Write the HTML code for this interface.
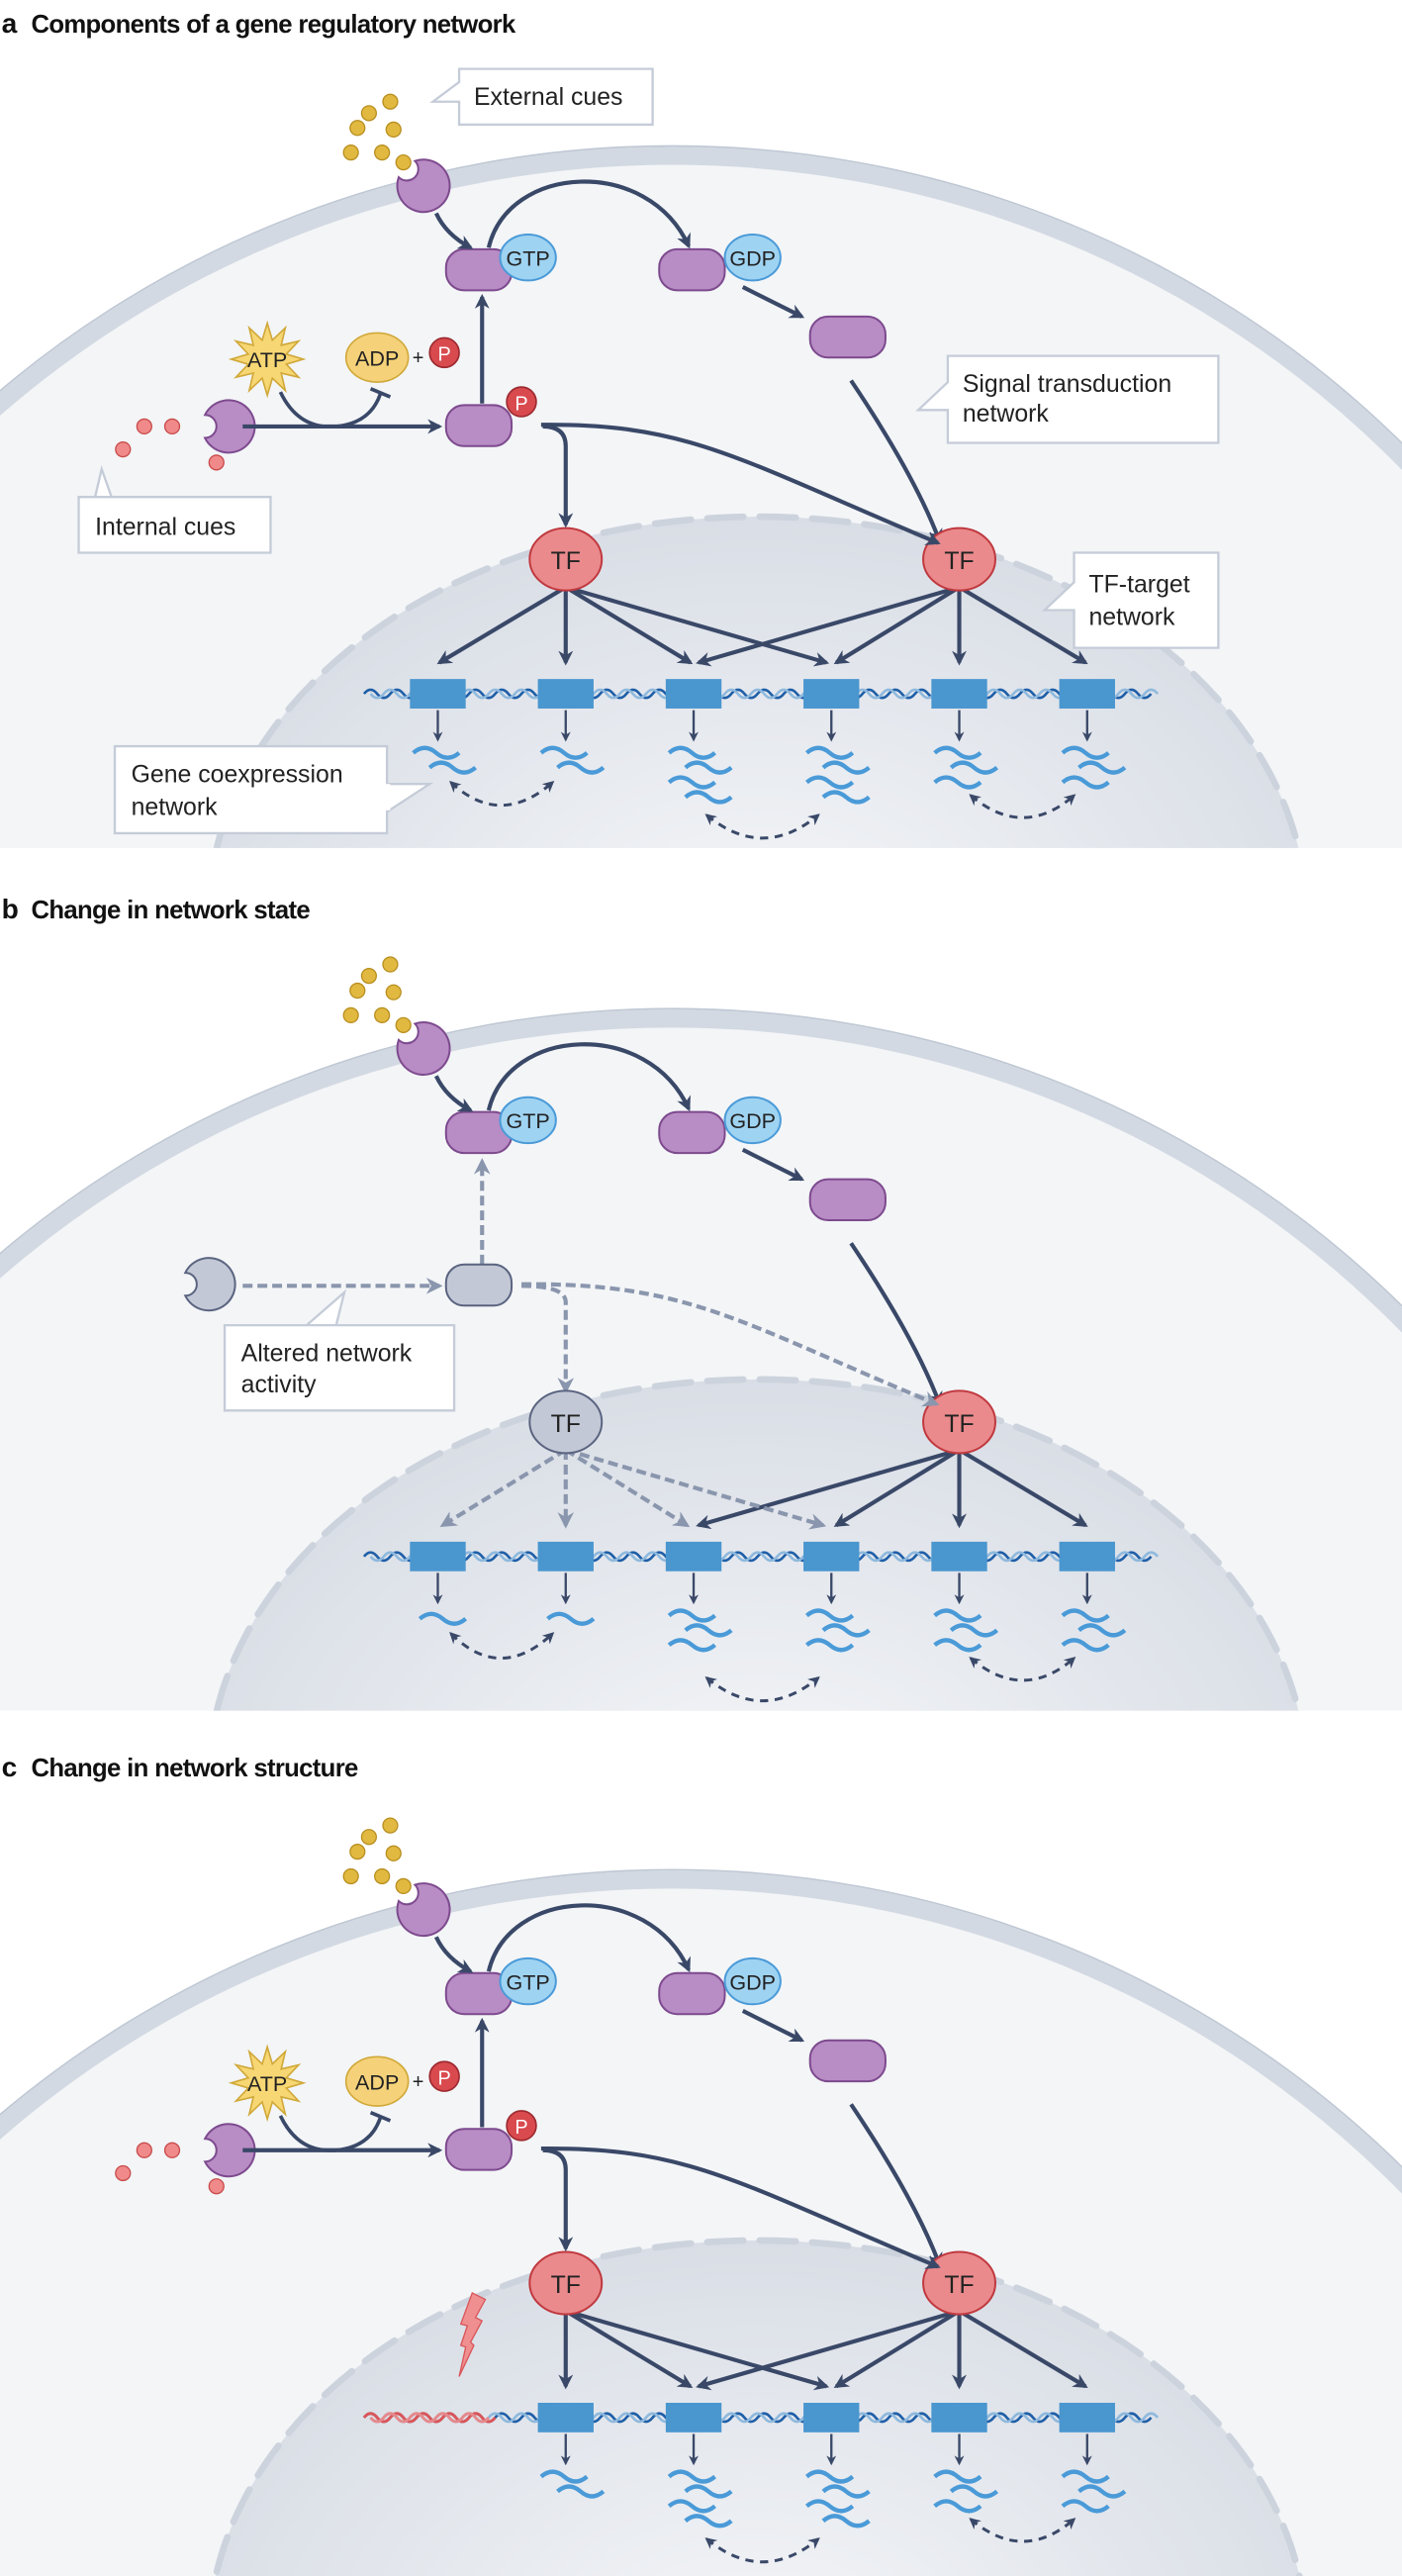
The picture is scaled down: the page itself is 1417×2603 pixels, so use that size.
<!DOCTYPE html>
<html><head><meta charset="utf-8"><style>html,body{margin:0;padding:0;background:#fff;overflow:hidden;width:1417px;height:2603px}svg{display:block}text{font-family:"Liberation Sans",sans-serif}</style></head><body>
<svg width="1417" height="2603" viewBox="0 0 855 1570.6" preserveAspectRatio="none" xmlns="http://www.w3.org/2000/svg">
<defs>
<marker id="ah" viewBox="0 0 10 10" refX="8" refY="5" markerWidth="9" markerHeight="9" markerUnits="userSpaceOnUse" orient="auto"><path d="M0,0 L10,5 L0,10 L3,5 Z" fill="#3a4868"/></marker>
<marker id="ahs" viewBox="0 0 10 10" refX="8" refY="5" markerWidth="6" markerHeight="6" markerUnits="userSpaceOnUse" orient="auto"><path d="M0,0 L10,5 L0,10 L3,5 Z" fill="#3a4868"/></marker>
<marker id="ahg" viewBox="0 0 10 10" refX="8" refY="5" markerWidth="10" markerHeight="10" markerUnits="userSpaceOnUse" orient="auto"><path d="M0,0 L10,5 L0,10 L3,5 Z" fill="#8a96ad"/></marker>
<marker id="ahd" viewBox="0 0 10 10" refX="8" refY="5" markerWidth="7" markerHeight="7" markerUnits="userSpaceOnUse" orient="auto-start-reverse"><path d="M0,0 L10,5 L0,10 L3,5 Z" fill="#3a4868"/></marker>
<radialGradient id="nuc" cx="0.5" cy="0.55" r="0.55"><stop offset="0" stop-color="#f6f7f9"/><stop offset="1" stop-color="#d9dee6"/></radialGradient>
<g id="mr"><path d="M0,3 q7,-6 14,0 t14,0" fill="none" stroke="#4a9ad8" stroke-width="2.6"/></g>
<g id="gene"><rect x="-17" y="-9" width="34" height="18" fill="#4a96cf"/></g>
<g id="dna">
<path d="M222,423 q4,-5 8,0 t8,0 t8,0 t8,0 t8,0 t8,0 t8,0 t8,0 t8,0 t8,0 t8,0 t8,0 t8,0 t8,0 t8,0 t8,0 t8,0 t8,0 t8,0 t8,0 t8,0 t8,0 t8,0 t8,0 t8,0 t8,0 t8,0 t8,0 t8,0 t8,0 t8,0 t8,0 t8,0 t8,0 t8,0 t8,0 t8,0 t8,0 t8,0 t8,0 t8,0 t8,0 t8,0 t8,0 t8,0 t8,0 t8,0 t8,0 t8,0 t8,0 t8,0 t8,0 t8,0 t8,0 t8,0 t8,0 t8,0 t8,0 t8,0 t8,0" fill="none" stroke="#1f5fa8" stroke-width="1.6"/>
<path d="M226,423 q4,5 8,0 t8,0 t8,0 t8,0 t8,0 t8,0 t8,0 t8,0 t8,0 t8,0 t8,0 t8,0 t8,0 t8,0 t8,0 t8,0 t8,0 t8,0 t8,0 t8,0 t8,0 t8,0 t8,0 t8,0 t8,0 t8,0 t8,0 t8,0 t8,0 t8,0 t8,0 t8,0 t8,0 t8,0 t8,0 t8,0 t8,0 t8,0 t8,0 t8,0 t8,0 t8,0 t8,0 t8,0 t8,0 t8,0 t8,0 t8,0 t8,0 t8,0 t8,0 t8,0 t8,0 t8,0 t8,0 t8,0 t8,0 t8,0 t8,0 t8,0" fill="none" stroke="#8fb9dd" stroke-width="1.6"/>
</g>
<path id="rcp" d="M-14,-7 A16,16 0 1 1 -14,7 A7,7 0 0 0 -14,-7 Z"/>
<clipPath id="ca"><rect x="0" y="30" width="855" height="487"/></clipPath>
<clipPath id="cb"><rect x="0" y="569" width="855" height="474"/></clipPath>
<clipPath id="cc"><rect x="0" y="1094" width="855" height="477"/></clipPath>
<g id="bg">
<ellipse cx="410" cy="700" rx="620" ry="605" fill="#f3f5f7" stroke="#d3d9e2" stroke-width="11"/>
<ellipse cx="410" cy="700" rx="626" ry="611" fill="none" stroke="#bfc8d4" stroke-width="1"/>
<ellipse cx="462" cy="560" rx="335" ry="245" fill="url(#nuc)" stroke="#cdd3dd" stroke-width="4" stroke-dasharray="22 10" stroke-linecap="round"/>
</g>
<g id="top">
<g fill="#e2b940" stroke="#b88f20" stroke-width="0.8">
<circle cx="238" cy="62" r="4.5"/><circle cx="225" cy="69" r="4.5"/><circle cx="240" cy="79" r="4.5"/><circle cx="218" cy="78" r="4.5"/><circle cx="214" cy="93" r="4.5"/><circle cx="233" cy="93" r="4.5"/><circle cx="246" cy="99" r="4.5"/>
</g>
<use href="#rcp" transform="translate(258,113) rotate(45)" fill="#b88cc4" stroke="#7d4a8e" stroke-width="1.2"/>
<rect x="272" y="152" width="40" height="25" rx="11" fill="#b88cc4" stroke="#7d4a8e" stroke-width="1.2"/>
<ellipse cx="322" cy="157" rx="17" ry="14" fill="#9fd3f2" stroke="#4a9ad8" stroke-width="1.2"/>
<text x="322" y="162" font-size="13" text-anchor="middle" fill="#222">GTP</text>
<rect x="402" y="152" width="40" height="25" rx="11" fill="#b88cc4" stroke="#7d4a8e" stroke-width="1.2"/>
<ellipse cx="459" cy="157" rx="17" ry="14" fill="#9fd3f2" stroke="#4a9ad8" stroke-width="1.2"/>
<text x="459" y="162" font-size="13" text-anchor="middle" fill="#222">GDP</text>
<rect x="494" y="193" width="46" height="25" rx="11" fill="#b88cc4" stroke="#7d4a8e" stroke-width="1.2"/>
<path d="M266,130 Q272,143 287,151" fill="none" stroke="#3a4868" stroke-width="2.5" marker-end="url(#ah)"/>
<path d="M298,151 C310,100 395,95 420,150" fill="none" stroke="#3a4868" stroke-width="2.5" marker-end="url(#ah)"/>
<path d="M453,175 L489,193" fill="none" stroke="#3a4868" stroke-width="2.5" marker-end="url(#ah)"/>
<path d="M519,232 Q558,290 573,330" fill="none" stroke="#3a4868" stroke-width="2.5" marker-end="url(#ah)"/>
</g>
<g id="nucl">
<use href="#dna"/>
<use href="#gene" x="345" y="423"/><use href="#gene" x="423" y="423"/><use href="#gene" x="507" y="423"/><use href="#gene" x="585" y="423"/><use href="#gene" x="663" y="423"/>
<g stroke="#3a4868" stroke-width="1.4" marker-end="url(#ahs)">
<line x1="345" y1="433" x2="345" y2="451"/><line x1="423" y1="433" x2="423" y2="451"/><line x1="507" y1="433" x2="507" y2="451"/><line x1="585" y1="433" x2="585" y2="451"/><line x1="663" y1="433" x2="663" y2="451"/>
</g>
<g stroke="#3a4868" stroke-width="2.5" fill="none" marker-end="url(#ah)">
<line x1="585" y1="358" x2="426" y2="404"/><line x1="585" y1="358" x2="510" y2="404"/><line x1="585" y1="358" x2="585" y2="404"/><line x1="585" y1="358" x2="662" y2="404"/>
</g>
<ellipse cx="585" cy="341" rx="22" ry="19" fill="#ea8a8c" stroke="#c0393f" stroke-width="1.2"/>
<text x="585" y="347" font-size="15" text-anchor="middle" fill="#222">TF</text>
<g stroke="#3a4868" stroke-width="1.8" fill="none" stroke-dasharray="5 4" marker-start="url(#ahd)" marker-end="url(#ahd)">
<path d="M431,497 Q465,525 499,497"/><path d="M592,485 Q624,512 655,485"/>
</g>
</g>
</defs>

<text x="1" y="20" font-size="17" font-weight="bold" fill="#111">a</text>
<text x="19" y="20" font-size="15.5" font-weight="bold" fill="#111" letter-spacing="-0.4">Components of a gene regulatory network</text>
<text x="1" y="560" font-size="17" font-weight="bold" fill="#111">b</text>
<text x="19" y="560" font-size="15.5" font-weight="bold" fill="#111" letter-spacing="-0.4">Change in network state</text>
<text x="1" y="1083" font-size="17" font-weight="bold" fill="#111">c</text>
<text x="19" y="1083" font-size="15.5" font-weight="bold" fill="#111" letter-spacing="-0.4">Change in network structure</text>

<!-- PANEL A -->
<g clip-path="url(#ca)">
<use href="#bg"/>
<use href="#top"/>
<use href="#nucl"/>
<use href="#gene" x="267" y="423"/>
<line x1="267" y1="433" x2="267" y2="451" stroke="#3a4868" stroke-width="1.4" marker-end="url(#ahs)"/>
<g stroke="#3a4868" stroke-width="2.5" fill="none" marker-end="url(#ah)">
<line x1="345" y1="358" x2="268" y2="404"/><line x1="345" y1="358" x2="345" y2="404"/><line x1="345" y1="358" x2="421" y2="404"/><line x1="345" y1="358" x2="504" y2="404"/>
</g>
<path d="M275,477 Q305,505 337,477" stroke="#3a4868" stroke-width="1.8" fill="none" stroke-dasharray="5 4" marker-start="url(#ahd)" marker-end="url(#ahd)"/>
<ellipse cx="345" cy="341" rx="22" ry="19" fill="#ea8a8c" stroke="#c0393f" stroke-width="1.2"/>
<text x="345" y="347" font-size="15" text-anchor="middle" fill="#222">TF</text>
<use href="#mr" x="252" y="456"/><use href="#mr" x="262" y="465"/>
<use href="#mr" x="330" y="456"/><use href="#mr" x="340" y="465"/>
<use href="#mr" x="408" y="456"/><use href="#mr" x="418" y="465"/><use href="#mr" x="408" y="474"/><use href="#mr" x="418" y="483"/>
<use href="#mr" x="492" y="456"/><use href="#mr" x="502" y="465"/><use href="#mr" x="492" y="474"/><use href="#mr" x="502" y="483"/>
<use href="#mr" x="570" y="456"/><use href="#mr" x="580" y="465"/><use href="#mr" x="570" y="474"/>
<use href="#mr" x="648" y="456"/><use href="#mr" x="658" y="465"/><use href="#mr" x="648" y="474"/>
<g fill="#f08a8a" stroke="#c94b4b" stroke-width="0.8"><circle cx="75" cy="274" r="4.5"/><circle cx="88" cy="260" r="4.5"/><circle cx="105" cy="260" r="4.5"/><circle cx="132" cy="282" r="4.5"/></g>
<use href="#rcp" transform="translate(139,260)" fill="#b88cc4" stroke="#7d4a8e" stroke-width="1.2"/>
<polygon transform="translate(163,219)" points="22,0 11.6,3.1 19.1,11 8.5,8.5 11,19.1 3.1,11.6 0,22 -3.1,11.6 -11,19.1 -8.5,8.5 -19.1,11 -11.6,3.1 -22,0 -11.6,-3.1 -19.1,-11 -8.5,-8.5 -11,-19.1 -3.1,-11.6 0,-22 3.1,-11.6 11,-19.1 8.5,-8.5 19.1,-11 11.6,-3.1" fill="#f7d774" stroke="#d1a93a" stroke-width="1"/>
<text x="163" y="224" font-size="13" text-anchor="middle" fill="#222">ATP</text>
<ellipse cx="230" cy="218" rx="19" ry="15" fill="#f5d27a" stroke="#d1a93a" stroke-width="1"/>
<text x="230" y="223" font-size="13" text-anchor="middle" fill="#222">ADP</text>
<text x="255" y="222" font-size="12" text-anchor="middle" fill="#222">+</text>
<circle cx="271" cy="215" r="9" fill="#d94a4f" stroke="#9c2a2f" stroke-width="1"/><text x="271" y="220" font-size="12" text-anchor="middle" fill="#fff">P</text>
<line x1="294" y1="246" x2="294" y2="181" stroke="#3a4868" stroke-width="2.5" marker-end="url(#ah)"/>
<line x1="148" y1="260" x2="268" y2="260" stroke="#3a4868" stroke-width="2.5" marker-end="url(#ah)"/>
<path d="M171,239 Q182,262 205,260 Q226,258 232,240" stroke="#3a4868" stroke-width="2.2" fill="none"/>
<line x1="226" y1="237" x2="238" y2="242" stroke="#3a4868" stroke-width="2.2"/>
<rect x="272" y="247" width="40" height="25" rx="11" fill="#b88cc4" stroke="#7d4a8e" stroke-width="1.2"/>
<circle cx="318" cy="245" r="9" fill="#d94a4f" stroke="#9c2a2f" stroke-width="1"/><text x="318" y="250" font-size="12" text-anchor="middle" fill="#fff">P</text>
<path d="M331,260 Q345,260 345,272 L345,320" stroke="#3a4868" stroke-width="2.5" fill="none" marker-end="url(#ah)"/>
<path d="M330,259 C420,258 450,280 572,331" stroke="#3a4868" stroke-width="2.5" fill="none" marker-end="url(#ah)"/>
<g fill="#fff" stroke="#c5ccd8" stroke-width="1.4">
<path d="M280,42 H398 V76 H280 V62 L264,62 L280,50 Z"/>
<path d="M578,217 H743 V270 H578 V250 L560,250 L578,233 Z"/>
<path d="M48,303 H165 V337 H48 V303 H58 L62,286 L68,303"/>
<path d="M655,337 H743 V395 H655 V372 L637,372 L655,355 Z"/>
<path d="M70,455 H236 V508 H70 Z M236,478 L262,478 L236,495" />
</g>
<rect x="234" y="478" width="4" height="16" fill="#fff"/>
<g font-size="15" fill="#222">
<text x="289" y="64">External cues</text>
<text x="587" y="239">Signal transduction</text><text x="587" y="257">network</text>
<text x="58" y="326">Internal cues</text>
<text x="664" y="361">TF-target</text><text x="664" y="381">network</text>
<text x="80" y="477">Gene coexpression</text><text x="80" y="497">network</text>
</g>
</g>

<!-- PANEL B -->
<g clip-path="url(#cb)">
<g transform="translate(0,526)">
<use href="#bg"/>
<use href="#top"/>
<use href="#nucl"/>
<use href="#gene" x="267" y="423"/>
<line x1="267" y1="433" x2="267" y2="451" stroke="#3a4868" stroke-width="1.4" marker-end="url(#ahs)"/>
<g stroke="#8a96ad" stroke-width="2.5" fill="none" stroke-dasharray="6 3" marker-end="url(#ahg)">
<line x1="345" y1="358" x2="270" y2="404"/><line x1="345" y1="358" x2="345" y2="404"/><line x1="345" y1="358" x2="419" y2="404"/><line x1="345" y1="358" x2="502" y2="404"/>
<line x1="148" y1="258" x2="268" y2="258"/>
<line x1="294" y1="245" x2="294" y2="182"/>
<path d="M318,258 Q345,258 345,268 L345,322"/>
<path d="M318,257 C420,256 450,280 571,330"/>
</g>
<path d="M275,470 Q305,500 337,470" stroke="#3a4868" stroke-width="1.8" fill="none" stroke-dasharray="5 4" marker-start="url(#ahd)" marker-end="url(#ahd)"/>
<ellipse cx="345" cy="341" rx="22" ry="19" fill="#c3c8d6" stroke="#5a6480" stroke-width="1.2"/>
<text x="345" y="347" font-size="15" text-anchor="middle" fill="#222">TF</text>
<use href="#mr" x="256" y="458"/>
<use href="#mr" x="334" y="458"/>
<use href="#mr" x="408" y="456"/><use href="#mr" x="418" y="465"/><use href="#mr" x="408" y="474"/>
<use href="#mr" x="492" y="456"/><use href="#mr" x="502" y="465"/><use href="#mr" x="492" y="474"/>
<use href="#mr" x="570" y="456"/><use href="#mr" x="580" y="465"/><use href="#mr" x="570" y="474"/>
<use href="#mr" x="648" y="456"/><use href="#mr" x="658" y="465"/><use href="#mr" x="648" y="474"/>
<use href="#rcp" transform="translate(127,257)" fill="#c3c8d6" stroke="#5a6480" stroke-width="1.2"/>
<rect x="272" y="245" width="40" height="25" rx="11" fill="#c3c8d6" stroke="#5a6480" stroke-width="1.2"/>
<path d="M137,282 H277 V334 H137 V282 H187 L210,262 L205,282" fill="#fff" stroke="#c5ccd8" stroke-width="1.4"/>
<text x="147" y="304" font-size="15" fill="#222">Altered network</text><text x="147" y="323" font-size="15" fill="#222">activity</text>
</g>
</g>

<!-- PANEL C -->
<g clip-path="url(#cc)">
<g transform="translate(0,1051)">
<use href="#bg"/>
<use href="#top"/>
<use href="#nucl"/>
<path d="M222,423 q4,-5 8,0 t8,0 t8,0 t8,0 t8,0 t8,0 t8,0 t8,0 t8,0 t8,0" fill="none" stroke="#d9565a" stroke-width="1.8"/>
<path d="M226,423 q4,5 8,0 t8,0 t8,0 t8,0 t8,0 t8,0 t8,0 t8,0 t8,0" fill="none" stroke="#e48a8d" stroke-width="1.8"/>
<polygon points="288,347 296,351 290,362 294,364 287,377 289,379 280,398 284,380 281,379 285,367 281,366" fill="#ef8f90" stroke="#d9565a" stroke-width="0.8"/>
<g stroke="#3a4868" stroke-width="2.5" fill="none" marker-end="url(#ah)">
<line x1="345" y1="358" x2="345" y2="404"/><line x1="345" y1="358" x2="421" y2="404"/><line x1="345" y1="358" x2="504" y2="404"/>
</g>
<ellipse cx="345" cy="341" rx="22" ry="19" fill="#ea8a8c" stroke="#c0393f" stroke-width="1.2"/>
<text x="345" y="347" font-size="15" text-anchor="middle" fill="#222">TF</text>
<use href="#mr" x="330" y="456"/><use href="#mr" x="340" y="465"/>
<use href="#mr" x="408" y="456"/><use href="#mr" x="418" y="465"/><use href="#mr" x="408" y="474"/><use href="#mr" x="418" y="483"/>
<use href="#mr" x="492" y="456"/><use href="#mr" x="502" y="465"/><use href="#mr" x="492" y="474"/><use href="#mr" x="502" y="483"/>
<use href="#mr" x="570" y="456"/><use href="#mr" x="580" y="465"/><use href="#mr" x="570" y="474"/>
<use href="#mr" x="648" y="456"/><use href="#mr" x="658" y="465"/><use href="#mr" x="648" y="474"/>
<g fill="#f08a8a" stroke="#c94b4b" stroke-width="0.8"><circle cx="75" cy="274" r="4.5"/><circle cx="88" cy="260" r="4.5"/><circle cx="105" cy="260" r="4.5"/><circle cx="132" cy="282" r="4.5"/></g>
<use href="#rcp" transform="translate(139,260)" fill="#b88cc4" stroke="#7d4a8e" stroke-width="1.2"/>
<polygon transform="translate(163,219)" points="22,0 11.6,3.1 19.1,11 8.5,8.5 11,19.1 3.1,11.6 0,22 -3.1,11.6 -11,19.1 -8.5,8.5 -19.1,11 -11.6,3.1 -22,0 -11.6,-3.1 -19.1,-11 -8.5,-8.5 -11,-19.1 -3.1,-11.6 0,-22 3.1,-11.6 11,-19.1 8.5,-8.5 19.1,-11 11.6,-3.1" fill="#f7d774" stroke="#d1a93a" stroke-width="1"/>
<text x="163" y="224" font-size="13" text-anchor="middle" fill="#222">ATP</text>
<ellipse cx="230" cy="218" rx="19" ry="15" fill="#f5d27a" stroke="#d1a93a" stroke-width="1"/>
<text x="230" y="223" font-size="13" text-anchor="middle" fill="#222">ADP</text>
<text x="255" y="222" font-size="12" text-anchor="middle" fill="#222">+</text>
<circle cx="271" cy="215" r="9" fill="#d94a4f" stroke="#9c2a2f" stroke-width="1"/><text x="271" y="220" font-size="12" text-anchor="middle" fill="#fff">P</text>
<line x1="294" y1="246" x2="294" y2="181" stroke="#3a4868" stroke-width="2.5" marker-end="url(#ah)"/>
<line x1="148" y1="260" x2="268" y2="260" stroke="#3a4868" stroke-width="2.5" marker-end="url(#ah)"/>
<path d="M171,239 Q182,262 205,260 Q226,258 232,240" stroke="#3a4868" stroke-width="2.2" fill="none"/>
<line x1="226" y1="237" x2="238" y2="242" stroke="#3a4868" stroke-width="2.2"/>
<rect x="272" y="247" width="40" height="25" rx="11" fill="#b88cc4" stroke="#7d4a8e" stroke-width="1.2"/>
<circle cx="318" cy="245" r="9" fill="#d94a4f" stroke="#9c2a2f" stroke-width="1"/><text x="318" y="250" font-size="12" text-anchor="middle" fill="#fff">P</text>
<path d="M331,260 Q345,260 345,272 L345,320" stroke="#3a4868" stroke-width="2.5" fill="none" marker-end="url(#ah)"/>
<path d="M330,259 C420,258 450,280 572,331" stroke="#3a4868" stroke-width="2.5" fill="none" marker-end="url(#ah)"/>
</g>
</g>
</svg>
</body></html>
